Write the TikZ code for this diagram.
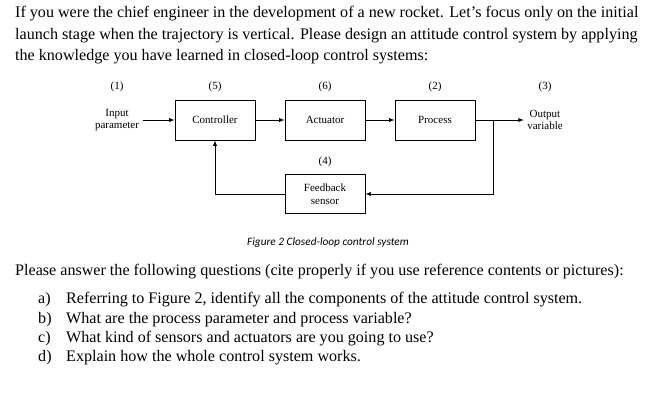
\documentclass[tikz,border=0pt]{standalone}
\usepackage{fontspec}
\setmainfont{Liberation Serif}
\newfontfamily\capfont{Carlito}
\begin{document}
\begin{tikzpicture}[x=1pt,y=-1pt,
  blk/.style={draw,line width=0.9pt,minimum width=80pt,minimum height=40pt,font=\fontsize{11}{12.5}\selectfont,align=center},
  lbl/.style={font=\fontsize{11}{12.5}\selectfont,align=center},
  txt/.style={anchor=west,inner sep=0pt,font=\fontsize{16.1}{18}\selectfont},
  arr/.style={->,>=latex,line width=0.9pt}]
\useasboundingbox (0,0) rectangle (671,400);
\node[txt] (t1) at (15,14) {If you were the chief engineer in the development of a new rocket. Let’s focus only on the initial};
\node[txt] (t2) at (15,36) {launch stage when the trajectory is vertical. Please design an attitude control system by applying};
\node[txt] (t3) at (15,57) {the knowledge you have learned in closed-loop control systems:};
\node[blk] (c) at (215,120) {Controller};
\node[blk] (a) at (325,120) {Actuator};
\node[blk] (p) at (435,120) {Process};
\node[blk,minimum height=39pt] (f) at (325,194) {Feedback\\sensor};
\node[lbl] (in) at (117,120) {Input\\parameter};
\node[lbl] (out) at (545,120) {Output\\variable};
\node[lbl] (n1) at (117,87) {(1)};
\node[lbl] (n5) at (215,87) {(5)};
\node[lbl] (n6) at (325,87) {(6)};
\node[lbl] (n2) at (435,87) {(2)};
\node[lbl] (n3) at (545,87) {(3)};
\node[lbl] (n4) at (325,162) {(4)};
\coordinate (br) at (493,120);
\draw[arr] (in.east) -- (c.west);
\draw[arr] (c) -- (a);
\draw[arr] (a) -- (p);
\draw[arr] (p.east) -- (out.west);
\draw[arr] (br) |- (f.east);
\draw[arr] (f.west) -| (c.south);
\node[font=\capfont\itshape\fontsize{11.3}{13}\selectfont] (cap) at (328,243) {Figure 2 Closed-loop control system};
\node[txt] (q) at (15,272) {Please answer the following questions (cite properly if you use reference contents or pictures):};
\node[txt] (la) at (38,300) {a)};
\node[txt] (a1) at (66,300) {Referring to Figure 2, identify all the components of the attitude control system.};
\node[txt] (lb) at (38,320) {b)};
\node[txt] (b1) at (66,320) {What are the process parameter and process variable?};
\node[txt] (lc) at (38,339) {c)};
\node[txt] (c1) at (66,339) {What kind of sensors and actuators are you going to use?};
\node[txt] (ld) at (38,358) {d)};
\node[txt] (d1) at (66,358) {Explain how the whole control system works.};
\end{tikzpicture}
\end{document}
